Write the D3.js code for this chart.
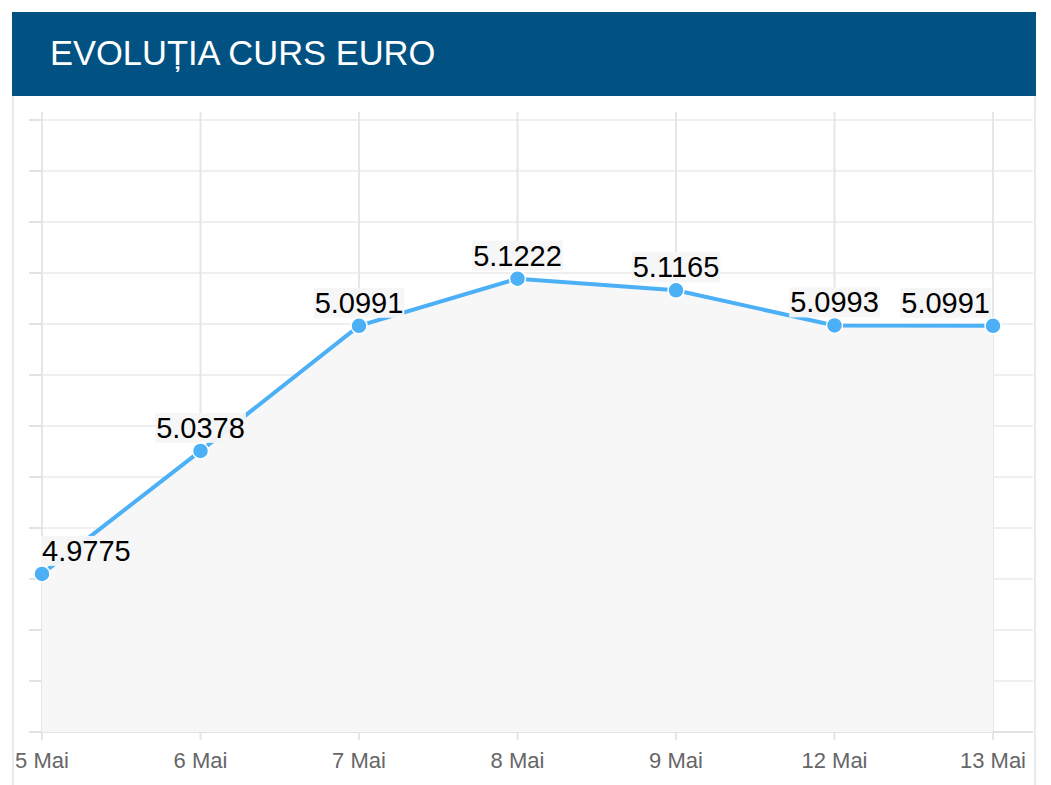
<!DOCTYPE html>
<html>
<head>
<meta charset="utf-8">
<script src="https://cdn.jsdelivr.net/npm/d3@7"></script>
<style>
  body { margin: 0; background: #ffffff; font-family: "Liberation Sans", Arial, sans-serif; }
</style>
</head>
<body>
<div id="chart"></div>
<script>
// data
const days = ["5 Mai", "6 Mai", "7 Mai", "8 Mai", "9 Mai", "12 Mai", "13 Mai"];
const rates = [4.9775, 5.0378, 5.0991, 5.1222, 5.1165, 5.0993, 5.0991];
const yTicks = d3.range(0, 13).map(i => +(4.9 + i * 0.025).toFixed(3));
const title = "EVOLUȚIA CURS EURO";

const W = 1051, H = 785;
const margin = {top: 120, right: 58, bottom: 53, left: 42},
    width = W - margin.left - margin.right,
    height = H - margin.top - margin.bottom;

const svg = d3.select("#chart")
  .append("svg")
  .attr("width", W)
  .attr("height", H);

// card borders
svg.append("line").attr("x1", 13).attr("x2", 13).attr("y1", 96).attr("y2", H)
  .attr("stroke", "#e6ebf0").attr("stroke-width", 2);
svg.append("line").attr("x1", 1035).attr("x2", 1035).attr("y1", 96).attr("y2", H)
  .attr("stroke", "#e6ebf0").attr("stroke-width", 2);

// header
svg.append("rect")
  .attr("x", 12).attr("y", 12).attr("width", 1024).attr("height", 84)
  .attr("fill", "#015282");
svg.append("text")
  .attr("x", 50).attr("y", 65)
  .attr("fill", "#ffffff")
  .style("font-size", "34.5px")
  .text(title);

const g = svg.append("g")
  .attr("transform", `translate(${margin.left},${margin.top})`);

const x = d3.scalePoint()
  .domain(days)
  .range([0, width]);

const y = d3.scaleLinear()
  .domain([4.9, 5.2])
  .range([height, 0]);

// horizontal grid + left ticks
g.selectAll(".hgrid")
  .data(yTicks)
  .join("line")
  .attr("x1", 0).attr("x2", 991)
  .attr("y1", d => y(d)).attr("y2", d => y(d))
  .attr("stroke", "#efefef").attr("stroke-width", 2);
g.selectAll(".ytick")
  .data(yTicks)
  .join("line")
  .attr("x1", -13).attr("x2", 0)
  .attr("y1", d => y(d)).attr("y2", d => y(d))
  .attr("stroke", "#e2e2e2").attr("stroke-width", 2);

// vertical grid
g.selectAll(".vgrid")
  .data(days)
  .join("line")
  .attr("x1", d => x(d)).attr("x2", d => x(d))
  .attr("y1", -8).attr("y2", height + 8)
  .attr("stroke", "#e6e6e6").attr("stroke-width", 2);

// bottom axis line
g.append("line")
  .attr("x1", 0).attr("x2", 991)
  .attr("y1", height).attr("y2", height)
  .attr("stroke", "#e2e2e2").attr("stroke-width", 2);

// x labels
g.selectAll(".xlab")
  .data(days)
  .join("text")
  .attr("x", d => x(d))
  .attr("y", height + 36)
  .attr("text-anchor", "middle")
  .attr("fill", "#666666")
  .style("font-size", "22px")
  .text(d => d);

const pts = days.map((d, i) => ({day: d, v: rates[i]}));

// area
g.append("path")
  .datum(pts)
  .attr("fill", "#f7f7f7")
  .attr("d", d3.area()
    .x(d => x(d.day))
    .y0(height)
    .y1(d => y(d.v)));

// line
g.append("path")
  .datum(pts)
  .attr("fill", "none")
  .attr("stroke", "#4cb0f6")
  .attr("stroke-width", 4)
  .attr("d", d3.line()
    .x(d => x(d.day))
    .y(d => y(d.v)));

// labels with background
const labels = g.selectAll(".lab")
  .data(pts)
  .join("g");

labels.append("rect").attr("fill", "#f5f5f5").attr("fill-opacity", 0.95);
labels.append("text")
  .attr("text-anchor", "middle")
  .attr("fill", "#000000")
  .style("font-size", "29px")
  .text(d => d.v.toFixed(4));

labels.each(function(d) {
  const sel = d3.select(this);
  const t = sel.select("text");
  const w = t.node().getComputedTextLength();
  let cx = x(d.day);
  cx = Math.max(w / 2, Math.min(width - 3 - w / 2, cx));
  const py = y(d.v);
  t.attr("x", cx).attr("y", py - 13);
  sel.select("rect")
    .attr("x", cx - w / 2 - 1).attr("y", py - 38)
    .attr("width", w + 2).attr("height", 30);
});

// points
g.selectAll(".pt")
  .data(pts)
  .join("circle")
  .attr("cx", d => x(d.day))
  .attr("cy", d => y(d.v))
  .attr("r", 8)
  .attr("fill", "#4cb0f6")
  .attr("stroke", "#ffffff")
  .attr("stroke-width", 1.5);
</script>
</body>
</html>
